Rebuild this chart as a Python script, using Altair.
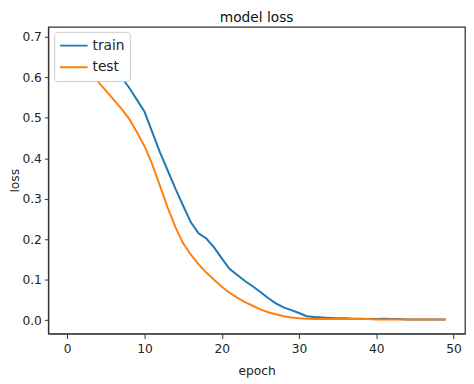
import altair as alt
import pandas as pd

epochs = list(range(50))
train_loss = [0.690, 0.678, 0.665, 0.652, 0.640, 0.627, 0.614, 0.600, 0.575, 0.545,
              0.515, 0.465, 0.415, 0.370, 0.325, 0.283, 0.242, 0.215, 0.202, 0.180,
              0.153, 0.127, 0.112, 0.097, 0.084, 0.070, 0.055, 0.042, 0.032, 0.025,
              0.018, 0.010, 0.008, 0.007, 0.006, 0.005, 0.005, 0.004, 0.004, 0.003,
              0.003, 0.004, 0.003, 0.003, 0.002, 0.002, 0.002, 0.002, 0.002, 0.002]
test_loss = [0.666, 0.648, 0.629, 0.609, 0.589, 0.567, 0.545, 0.523, 0.498, 0.465,
             0.430, 0.385, 0.332, 0.278, 0.230, 0.190, 0.162, 0.138, 0.118, 0.100,
             0.083, 0.068, 0.056, 0.045, 0.036, 0.027, 0.020, 0.015, 0.010, 0.007,
             0.005, 0.004, 0.003, 0.003, 0.003, 0.003, 0.003, 0.003, 0.003, 0.003,
             0.002, 0.002, 0.002, 0.002, 0.002, 0.002, 0.002, 0.002, 0.002, 0.002]
series = ["train", "test"]
x_ticks = [0, 10, 20, 30, 40, 50]
y_ticks = [0.0, 0.1, 0.2, 0.3, 0.4, 0.5, 0.6, 0.7]

df = pd.concat([
    pd.DataFrame({"epoch": epochs, "loss": train_loss, "series": "train"}),
    pd.DataFrame({"epoch": epochs, "loss": test_loss, "series": "test"}),
])

FONT = "DejaVu Sans"

chart = alt.Chart(df).mark_line(strokeWidth=2).encode(
    x=alt.X("epoch:Q",
            scale=alt.Scale(domain=[-2.457, 51.49], nice=False, zero=False),
            axis=alt.Axis(values=x_ticks, title="epoch", grid=False,
                          tickSize=5, labelPadding=4, titlePadding=10, format="d")),
    y=alt.Y("loss:Q",
            scale=alt.Scale(domain=[-0.0328, 0.7245], nice=False, zero=False),
            axis=alt.Axis(values=y_ticks, title="loss", grid=False,
                          tickSize=4, labelPadding=3, titlePadding=0, format=".1f")),
    color=alt.Color("series:N",
                    scale=alt.Scale(domain=series, range=["#1f77b4", "#ff7f0e"]),
                    legend=alt.Legend(title=None, orient="none", legendX=6, legendY=5,
                                      symbolType="stroke", symbolSize=784,
                                      symbolStrokeWidth=2, labelFontSize=14,
                                      labelFont=FONT, labelColor="#222",
                                      padding=5, rowPadding=4,
                                      strokeColor="#cccccc", fillColor="white",
                                      cornerRadius=3, clipHeight=18)),
    order=alt.Order("epoch:Q"),
).properties(
    width=424,
    height=312,
    title=alt.TitleParams("model loss", fontSize=14, font=FONT, fontWeight="normal",
                          color="#111", anchor="middle", offset=2),
    autosize=alt.AutoSizeParams(type="none"),
    padding={"left": 41, "top": 16, "right": 1, "bottom": 48},
).configure_view(
    stroke="#333", strokeWidth=1.3
).configure_axis(
    labelFont=FONT, titleFont=FONT, labelFontSize=12.5, titleFontSize=12.5,
    titleFontWeight="normal", labelColor="#222", titleColor="#222",
    domainColor="#333", tickColor="#333"
)

chart.save("out.html", embed_options={"renderer": "svg", "actions": False})
